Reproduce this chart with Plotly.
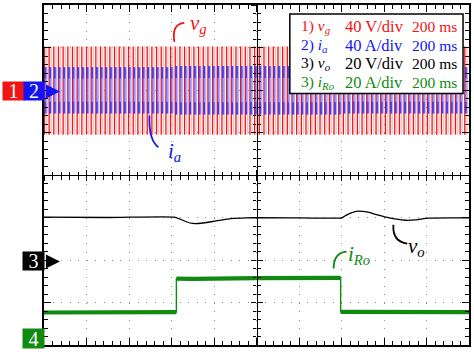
import plotly.graph_objects as go

# ---------------- scope settings (from the on-screen legend) ----------------
T_DIV_S = 0.2          # 200 ms/div
N_DIV_X = 10
N_DIV_Y = 8
VG_SCALE = 40.0        # V/div
IA_SCALE = 40.0        # A/div
VO_SCALE = 20.0        # V/div
IRO_SCALE = 20.0       # A/div
CH12_REF = 2.0         # channel 1 & 2 ground marker (div)
CH3_REF = -2.0
CH4_REF = -4.0

# ---------------- data ----------------
# grid voltage / input current: dense (aliased) AC traces
N_CYCLES = 91                      # visible strokes across the screen
vg_peak_V = [41.0, 41.0, 41.0]     # per load segment
vg_trough_V = [-42.0, -42.0, -42.0]
seg_cycles = [28, 36, 27]          # cycles before / during / after load step
ia_peak_A = [21.5, 22.5, 21.5]
ia_trough_A = [-22.0, -23.0, -22.0]

# output voltage
vo_t = [0.0, 0.30, 0.612, 0.64, 0.67, 0.70, 0.74, 0.81, 0.88, 0.95, 1.20, 1.385,
        1.40, 1.43, 1.47, 1.52, 1.56, 1.61, 1.66, 1.70, 1.75, 1.81, 2.0]
vo_V = [20.2, 20.0, 20.2, 19.3, 18.0, 17.2, 17.3, 18.4, 19.5, 19.85, 19.8, 19.7,
        19.8, 21.5, 22.9, 22.6, 21.5, 20.2, 19.2, 18.7, 18.9, 19.7, 19.8]

# load current step
iro_t = [0.0, 0.30, 0.623, 0.623, 0.70, 1.00, 1.396, 1.396, 1.70, 2.0]
iro_A = [15.3, 15.4, 15.5, 31.2, 31.1, 31.5, 31.6, 15.6, 15.5, 15.5]

RED = "#f01414"
BLUE = "#1414f0"
GREEN = "#108a10"
BLACK = "#000000"
FONT = "Liberation Serif"

# ---------------- geometry helpers (pixels -> paper / data) ----------------
W, H = 474, 359
ML, MR, MT, MB = 44, 3, 3, 14
PW, PH = W - ML - MR, H - MT - MB
X_MAX = T_DIV_S * N_DIV_X


def xp(px):
    return (px - ML) / PW


def yp(py):
    return 1 - (py - MT) / PH


def xd(px):
    return (px - ML) / PW * X_MAX


def yd(py):
    return N_DIV_Y / 2 - (py - MT) / PH * N_DIV_Y


# ---------------- build traces ----------------
period = X_MAX / N_CYCLES


def per_cycle(values):
    out = []
    for v, n in zip(values, seg_cycles):
        out += [v] * n
    return out


vgp, vgt = per_cycle(vg_peak_V), per_cycle(vg_trough_V)
iap, iat = per_cycle(ia_peak_A), per_cycle(ia_trough_A)


def strokes(offset, hi, lo, scale, ref):
    xs, ys = [], []
    for k in range(N_CYCLES):
        t = (k + offset) * period
        xs += [t, t, None]
        ys += [ref + lo[k] / scale, ref + hi[k] / scale, None]
    return xs, ys


def end_strokes(offset, hi, lo, scale, ref, frac):
    xs, ys = [], []
    for k in range(N_CYCLES):
        t = (k + offset) * period
        xs += [t, t, None, t, t, None]
        ys += [ref + hi[k] / scale, ref + hi[k] * frac / scale, None,
               ref + lo[k] / scale, ref + lo[k] * frac / scale, None]
    return xs, ys


fig = go.Figure()

x, y = strokes(0.55, vgp, vgt, VG_SCALE, CH12_REF)
fig.add_trace(go.Scatter(x=x, y=y, mode="lines", line=dict(color="#f9c2c2", width=1.4),
                         hoverinfo="skip", showlegend=False))
x, y = strokes(0.1, vgp, vgt, VG_SCALE, CH12_REF)
fig.add_trace(go.Scatter(x=x, y=y, mode="lines", line=dict(color=RED, width=1.3),
                         hoverinfo="skip", showlegend=False))

x, y = strokes(0.55, iap, iat, IA_SCALE, CH12_REF)
fig.add_trace(go.Scatter(x=x, y=y, mode="lines", line=dict(color="#b0b0ff", width=1.8),
                         hoverinfo="skip", showlegend=False, xaxis="x2", yaxis="y2"))
x, y = end_strokes(0.3, iap, iat, IA_SCALE, CH12_REF, 0.5)
fig.add_trace(go.Scatter(x=x, y=y, mode="lines", line=dict(color="#2a1ac8", width=1.6),
                         hoverinfo="skip", showlegend=False, xaxis="x2", yaxis="y2"))
x, y = strokes(0.3, iap, iat, IA_SCALE, CH12_REF)
fig.add_trace(go.Scatter(x=x, y=y, mode="lines", line=dict(color="#5a5aff", width=0.8),
                         hoverinfo="skip", showlegend=False, xaxis="x2", yaxis="y2"))

fig.add_trace(go.Scatter(x=vo_t, y=[CH3_REF + v / VO_SCALE for v in vo_V], mode="lines",
                         line=dict(color=BLACK, width=1.3, shape="spline", smoothing=0.6),
                         hoverinfo="skip", showlegend=False, xaxis="x3", yaxis="y3"))

iro_y = [CH4_REF + a / IRO_SCALE for a in iro_A]
fig.add_trace(go.Scatter(x=iro_t, y=iro_y, mode="lines", line=dict(color=GREEN, width=1.4),
                         hoverinfo="skip", showlegend=False, xaxis="x3", yaxis="y3"))
# thick (noisy-looking) plateaus: break the path at the vertical edges
tx, ty = [], []
for i in range(len(iro_t)):
    if i > 0 and iro_t[i] == iro_t[i - 1]:
        tx.append(None)
        ty.append(None)
    tx.append(iro_t[i])
    ty.append(iro_y[i])
fig.add_trace(go.Scatter(x=tx, y=ty, mode="lines", line=dict(color=GREEN, width=4.2),
                         hoverinfo="skip", showlegend=False, xaxis="x3", yaxis="y3"))

# ---------------- axes: frame + dotted graticule + centre cross ----------------
common = dict(showticklabels=False, zeroline=False, fixedrange=True)
fig.update_layout(
    xaxis=dict(range=[0, X_MAX], dtick=T_DIV_S, tick0=0, showgrid=True, gridcolor="#8c8c8c",
               griddash="1px,7.5px", gridwidth=1, showline=True, linecolor=BLACK, linewidth=1.5,
               mirror="ticks", ticks="inside", ticklen=7, tickwidth=1.2, tickcolor=BLACK,
               minor=dict(dtick=T_DIV_S / 5, ticks="inside", ticklen=4, tickwidth=1,
                          tickcolor=BLACK, showgrid=False), **common),
    yaxis=dict(range=[-N_DIV_Y / 2, N_DIV_Y / 2], dtick=1, tick0=0, showgrid=True,
               gridcolor="#8c8c8c", griddash="1px,7.5px", gridwidth=1, showline=True,
               linecolor=BLACK, linewidth=1.5, mirror="ticks", ticks="inside", ticklen=7,
               tickwidth=1.2, tickcolor=BLACK,
               minor=dict(dtick=0.2, ticks="inside", ticklen=4, tickwidth=1, tickcolor=BLACK,
                          showgrid=False), **common),
    xaxis2=dict(range=[0, X_MAX], overlaying="x", anchor="free", position=0.5, showgrid=False,
                showline=True, linecolor=BLACK, linewidth=1.2, dtick=T_DIV_S, tick0=0,
                ticks="outside", ticklen=5, tickwidth=1.2, tickcolor=BLACK,
                minor=dict(dtick=T_DIV_S / 5, ticks="outside", ticklen=3.5, tickwidth=1,
                           tickcolor=BLACK), **common),
    xaxis3=dict(range=[0, X_MAX], overlaying="x", anchor="free", position=0.5, showgrid=False,
                showline=False, dtick=T_DIV_S, tick0=0,
                ticks="inside", ticklen=5, tickwidth=1.2, tickcolor=BLACK,
                minor=dict(dtick=T_DIV_S / 5, ticks="inside", ticklen=3.5, tickwidth=1,
                           tickcolor=BLACK), **common),
    yaxis2=dict(range=[-N_DIV_Y / 2, N_DIV_Y / 2], overlaying="y", anchor="free", position=0.5,
                showgrid=False, showline=True, linecolor=BLACK, linewidth=1.2, dtick=1, tick0=0,
                ticks="outside", ticklen=5, tickwidth=1.2, tickcolor=BLACK,
                minor=dict(dtick=0.2, ticks="outside", ticklen=3.5, tickwidth=1,
                           tickcolor=BLACK), **common),
    yaxis3=dict(range=[-N_DIV_Y / 2, N_DIV_Y / 2], overlaying="y", anchor="free", position=0.5,
                showgrid=False, showline=False, dtick=1, tick0=0,
                ticks="inside", ticklen=5, tickwidth=1.2, tickcolor=BLACK,
                minor=dict(dtick=0.2, ticks="inside", ticklen=3.5, tickwidth=1,
                           tickcolor=BLACK), **common),
)

# ---------------- annotations ----------------
ann = []
shapes = []


def marker(label, color, cx, cy, w=21, h=18):
    ann.append(dict(xref="paper", yref="paper", x=xp(cx), y=yp(cy), text=label,
                    showarrow=False, bgcolor=color, width=w, height=h, borderpad=0,
                    font=dict(family=FONT, size=20, color="white"), xanchor="center",
                    yanchor="middle"))


def ground_arrow(color, py, head_px=60, tail_px=45):
    ann.append(dict(xref="x", yref="y", x=xd(head_px), y=yd(py), ax=tail_px - head_px, ay=0,
                    text="", showarrow=True, arrowhead=2, arrowsize=1.4, arrowwidth=2,
                    arrowcolor=color, standoff=0))


marker("1", RED, 13.5, 90)
marker("2", BLUE, 34, 90, w=20)
ground_arrow(BLUE, 90)
marker("3", BLACK, 33.5, 261)
ground_arrow(BLACK, 261)
marker("4", GREEN, 33.5, 338, h=19)
ground_arrow(GREEN, 346.5, head_px=59)


def label(text, color, cx, cy, start, ctrl, end, size=21):
    ann.append(dict(xref="paper", yref="paper", x=xp(cx), y=yp(cy), text=text, showarrow=False,
                    font=dict(family=FONT, size=size, color=color), xanchor="center",
                    yanchor="middle"))
    shapes.append(dict(type="path", xref="x", yref="y", layer="above",
                       path=f"M {xd(start[0])},{yd(start[1])} Q {xd(ctrl[0])},{yd(ctrl[1])} "
                            f"{xd(end[0])},{yd(end[1])}",
                       line=dict(color=color, width=1.8)))
    dx, dy = end[0] - ctrl[0], end[1] - ctrl[1]
    n = (dx * dx + dy * dy) ** 0.5
    ann.append(dict(xref="x", yref="y", x=xd(end[0]), y=yd(end[1]), ax=-dx / n * 4,
                    ay=-dy / n * 4, text="", showarrow=True, arrowhead=2, arrowsize=1.3,
                    arrowwidth=1.8, arrowcolor=color, standoff=0))


label("<i>v<sub>g</sub></i>", RED, 199, 22, (185, 21), (172, 22), (175, 40))
label("<i>i<sub>a</sub></i>", BLUE, 175, 151, (159, 146), (149, 139), (150, 114))
label("<i>v<sub>o</sub></i>", BLACK, 418, 246, (409, 243), (394, 241), (395, 224))
label("<i>i<sub>Ro</sub></i>", GREEN, 360, 254, (348, 251), (335, 252), (335, 268))

# legend box
shapes.append(dict(type="rect", xref="paper", yref="paper", x0=xp(291), x1=xp(465),
                   y0=yp(92), y1=yp(12), line=dict(color=BLACK, width=1.5),
                   fillcolor="white", layer="above"))
rows = [
    ("1) <i>v<sub>g</sub></i>", "40 V/div", "200 ms", RED),
    ("2) <i>i<sub>a</sub></i>", "40 A/div", "200 ms", BLUE),
    ("3) <i>v<sub>o</sub></i>", "20 V/div", "200 ms", BLACK),
    ("3) <i>i<sub>Ro</sub></i>", "20 A/div", "200 ms", GREEN),
]
row_y = [25, 43.5, 62, 80.5]
for (name, scale, tdiv, col), ry in zip(rows, row_y):
    for txt, px, sz in ((name, 300, 15.5), (scale, 344, 16.5), (tdiv, 412, 15.5)):
        ann.append(dict(xref="paper", yref="paper", x=xp(px), y=yp(ry), text=txt,
                        showarrow=False, xanchor="left", yanchor="middle",
                        font=dict(family=FONT, size=sz, color=col)))

fig.update_layout(
    width=W, height=H, margin=dict(l=ML, r=MR, t=MT, b=MB, pad=0),
    paper_bgcolor="white", plot_bgcolor="white", showlegend=False,
    annotations=ann, shapes=shapes,
)

fig.write_html("out.html", config={"displayModeBar": False},
               post_script="document.body.style.margin='0';")
